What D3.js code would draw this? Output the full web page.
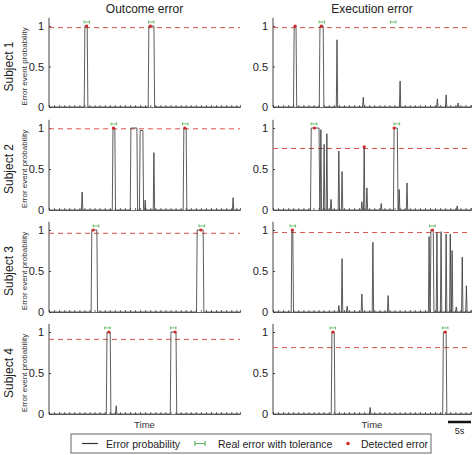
<!DOCTYPE html><html><head><meta charset="utf-8"><script src="https://d3js.org/d3.v7.min.js"></script>
<style>body{margin:0;background:#fff}text{font-family:"Liberation Sans",Arial,sans-serif}</style></head><body>
<svg id="c" width="474" height="455"></svg>
<script>
const subjects=["Subject 1","Subject 2","Subject 3","Subject 4"];
const columns=["Outcome error","Execution error"];
const yTicks=[0,0.5,1];
const thresholds=[[0.98,0.98],[0.99,0.75],[0.96,0.97],[0.91,0.81]];
const outcomePeaks=[
 [[7.8,8.3,1],[21.7,22.8,1]],
 [[7.2,7.2,0.22],[13.9,14.3,1],[17.8,19.1,1],[19.8,20.4,0.97],[20.9,20.9,0.12],[22.8,22.8,0.7],[29.3,29.8,1],[40,40,0.15]],
 [[9.3,10.4,1],[32.2,33.5,1]],
 [[12.6,13.3,1],[14.6,14.6,0.1],[26.5,27.6,1]]
];
const executionPeaks=[
 [[4.6,5.0,1],[10.2,10.9,1],[13.9,13.9,0.83],[19.6,19.6,0.12],[27.6,27.6,0.32],[35.7,35.7,0.1],[37.6,37.6,0.15],[40.2,40.2,0.05]],
 [[8.3,10,1],[10.4,10.4,0.98],[11.1,11.1,0.8],[11.7,11.7,0.93],[12.6,12.6,0.13],[14.3,14.3,0.72],[15,15,0.47],[19.3,19.3,0.1],[19.8,19.8,0.77],[20.4,20.4,0.27],[23.5,23.5,0.08],[26.3,27,1],[27.4,27.4,0.25],[29.1,29.1,0.33],[40,40,0.05]],
 [[4.1,4.3,1],[14.3,14.3,0.08],[15,15,0.65],[16.1,16.1,0.07],[19.3,19.3,0.22],[21.7,21.7,0.85],[25,25,0.2],[33.9,33.9,0.92],[34.3,34.8,1],[35.6,35.6,0.97],[36.5,36.5,0.98],[37.6,37.6,0.95],[38.5,38.5,0.95],[38.9,38.9,0.75],[39.8,39.8,0.06],[41.1,41.1,0.67],[42,42,0.32]],
 [[12.8,13.3,1],[21.1,21.1,0.08],[37,37.6,1]]
];
const outcomeReal=[[8.2,22.2],[14.1,29.6],[10.2,33.2],[12.7,27]];
const executionReal=[[10.6,26.1],[8.9,26.9],[4.3,34.6],[13,37.4]];
const outcomeDetected=[[[8.2,1],[22,1]],[[14,1],[29.5,1]],[[9.6,1],[33,1]],[[13,1],[27.4,1]]];
const executionDetected=[[[4.8,1],[10.5,1]],[[9,1],[19.8,0.77],[26.3,1]],[[4.2,1],[34.6,1]],[[13,1],[37.4,1]]];
const legendItems=["Error probability","Real error with tolerance","Detected error"];

const svg=d3.select("#c");
const colX=[[49,240],[273,471]];
const rowY=[[26,107],[128,210],[230,312],[332,414]];
const domains=[[0,41.5],[0,43]];
const peaksBy=[outcomePeaks,executionPeaks],realBy=[outcomeReal,executionReal],detBy=[outcomeDetected,executionDetected];
columns.forEach((c,ci)=>svg.append("text").attr("x",(colX[ci][0]+colX[ci][1])/2).attr("y",13).attr("text-anchor","middle").attr("font-size",12).attr("fill","#222").text(c));
subjects.forEach((s,ri)=>{
  const cy=(rowY[ri][0]+rowY[ri][1])/2;
  svg.append("text").attr("transform",`translate(13,${cy})rotate(-90)`).attr("text-anchor","middle").attr("font-size",12).attr("fill","#222").text(s);
  svg.append("text").attr("transform",`translate(27,${cy})rotate(-90)`).attr("text-anchor","middle").attr("font-size",8).attr("fill","#333").text("Error event probability");
  columns.forEach((c,ci)=>{
    const x=d3.scaleLinear().domain(domains[ci]).range(colX[ci]);
    const y=d3.scaleLinear().domain([0,1]).range([rowY[ri][1],rowY[ri][0]]);
    const g=svg.append("g");
    const xa=d3.axisBottom(x).tickValues(d3.range(0,domains[ci][1],1.1)).tickSize(-2).tickFormat("");
    g.append("g").attr("transform",`translate(0,${y(0)})`).call(xa).call(a=>{a.selectAll("path,line").attr("stroke","#444").attr("stroke-width",0.8)});
    const ya=d3.axisLeft(y).tickValues(yTicks).tickSize(-2).tickPadding(5).tickFormat(d=>d===0.5?"0.5":d);
    const yg=g.append("g").attr("transform",`translate(${colX[ci][0]},0)`).call(ya);
    yg.select(".domain").attr("d",`M0,${y(0)}V${y(1.1)}`).attr("stroke","#444");
    yg.selectAll("line").attr("stroke","#444");
    yg.selectAll("text").attr("font-size",11).attr("fill","#222").style("font-family","Liberation Sans, Arial");
    g.append("line").attr("x1",colX[ci][0]).attr("x2",colX[ci][1]).attr("y1",y(thresholds[ri][ci])).attr("y2",y(thresholds[ri][ci]))
      .attr("stroke","#d9534f").attr("stroke-dasharray","5,4").attr("stroke-width",1);
    const pts=[[domains[ci][0],0]];
    peaksBy[ci][ri].forEach(([a,b,h])=>{pts.push([a-0.15,0],[a,h],[b,h],[b+0.15,0]);});
    pts.push([domains[ci][1],0]);
    g.append("path").datum(pts).attr("d",d3.line().x(d=>x(d[0])).y(d=>y(d[1]))).attr("fill","none").attr("stroke","#333").attr("stroke-width",0.8);
    realBy[ci][ri].forEach(t=>{
      const yy=y(1.05),x1=x(t-0.6),x2=x(t+0.6);
      g.append("path").attr("d",`M${x1},${yy}H${x2}M${x1},${yy-1.5}V${yy+1.5}M${x2},${yy-1.5}V${yy+1.5}`).attr("stroke","#5cb85c").attr("stroke-width",0.9).attr("fill","none");
    });
    detBy[ci][ri].forEach(([t,h])=>g.append("circle").attr("cx",x(t)).attr("cy",y(h)).attr("r",1.6).attr("fill","#d62728"));
  });
});
columns.forEach((c,ci)=>svg.append("text").attr("x",(colX[ci][0]+colX[ci][1])/2).attr("y",428).attr("text-anchor","middle").attr("font-size",9.5).attr("fill","#333").text("Time"));
const xs=d3.scaleLinear().domain(domains[1]).range(colX[1]);
svg.append("line").attr("x1",xs(domains[1][1])-(xs(5)-xs(0))).attr("x2",xs(domains[1][1])).attr("y1",422).attr("y2",422).attr("stroke","#111").attr("stroke-width",2.5);
svg.append("text").attr("x",xs(domains[1][1])-(xs(5)-xs(0))/2).attr("y",434).attr("text-anchor","middle").attr("font-size",9).attr("fill","#222").text("5s");
const lg=svg.append("g");
lg.append("rect").attr("x",71).attr("y",434).attr("width",360).attr("height",19).attr("fill","#fff").attr("stroke","#666");
lg.append("line").attr("x1",82).attr("x2",98).attr("y1",443.5).attr("y2",443.5).attr("stroke","#333").attr("stroke-width",1.2);
lg.append("text").attr("x",106).attr("y",447.5).attr("font-size",10.5).attr("fill","#222").text(legendItems[0]);
lg.append("path").attr("d","M195,443.5H205M195,441V446M205,441V446").attr("stroke","#5cb85c").attr("stroke-width",1.2);
lg.append("text").attr("x",218).attr("y",447.5).attr("font-size",10.5).attr("fill","#222").text(legendItems[1]);
lg.append("circle").attr("cx",348).attr("cy",443.5).attr("r",1.8).attr("fill","#d62728");
lg.append("text").attr("x",361).attr("y",447.5).attr("font-size",10.5).attr("fill","#222").text(legendItems[2]);
</script></body></html>
